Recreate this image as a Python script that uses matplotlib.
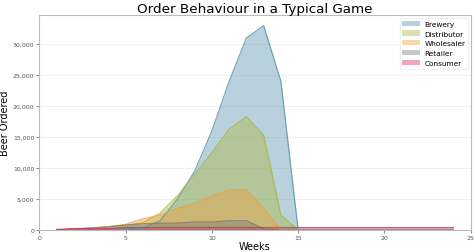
import matplotlib
matplotlib.use("Agg")
import matplotlib.pyplot as plt
from matplotlib.ticker import FuncFormatter

weeks = list(range(1, 25))
brewery =     [0, 50, 100, 150, 200, 300, 1500, 5000, 9500, 16000, 24000, 31000, 33000, 24000, 0, 0, 0, 0, 0, 0, 0, 0, 0, 0]
distributor = [0, 150, 300, 450, 700, 1200, 2700, 5500, 9000, 12500, 16300, 18300, 15300, 2400, 0, 0, 0, 0, 0, 0, 0, 0, 0, 0]
wholesaler =  [0, 200, 350, 550, 900, 1800, 2400, 3500, 4300, 5500, 6500, 6500, 3500, 0, 0, 0, 0, 0, 0, 0, 0, 0, 0, 0]
retailer =    [0, 150, 300, 500, 800, 1000, 1100, 1100, 1300, 1300, 1500, 1500, 200, 0, 0, 0, 0, 0, 0, 0, 0, 0, 0, 0]
consumer =    [100, 200, 200, 200, 400, 400, 400, 400, 400, 400, 400, 400, 400, 400, 400, 400, 400, 400, 400, 400, 400, 400, 400, 400]

series = [
    ("Brewery", brewery, "#5a93ad"),
    ("Distributor", distributor, "#a9b83f"),
    ("Wholesaler", wholesaler, "#f2a03d"),
    ("Retailer", retailer, "#7a7a7a"),
    ("Consumer", consumer, "#d0336a"),
]

fig, ax = plt.subplots(figsize=(4.74, 2.53), dpi=100)
fig.subplots_adjust(left=0.083, right=0.993, top=0.935, bottom=0.087)

for name, vals, col in series:
    ax.fill_between(weeks, vals, 0, color=col, alpha=0.42, label=name, linewidth=0)
    ax.plot(weeks, vals, color=col, alpha=0.8, linewidth=0.9)

ax.set_xlim(0, 25)
ax.set_ylim(0, 34650)
ax.set_xticks([0, 5, 10, 15, 20, 25])
ax.set_yticks([0, 5000, 10000, 15000, 20000, 25000, 30000])
ax.yaxis.set_major_formatter(FuncFormatter(lambda v, p: f"{int(v):,}"))
ax.tick_params(labelsize=4.5, length=2, width=0.5, colors="#555555", pad=1.5)
ax.grid(axis="y", color="#eeeeee", linewidth=0.6)
ax.set_axisbelow(True)
for s in ax.spines.values():
    s.set_color("#bbbbbb")
    s.set_linewidth(0.8)

ax.set_title("Order Behaviour in a Typical Game", fontsize=9.7, pad=2)
ax.set_xlabel("Weeks", fontsize=7, labelpad=1)
ax.set_ylabel("Beer Ordered", fontsize=7, labelpad=2)
ax.legend(loc="upper right", fontsize=5.3, frameon=True, edgecolor="#eeeeee", handlelength=2.4,
          labelspacing=0.5, borderaxespad=0.3, handletextpad=0.6)

fig.savefig("out.png", dpi=100)
